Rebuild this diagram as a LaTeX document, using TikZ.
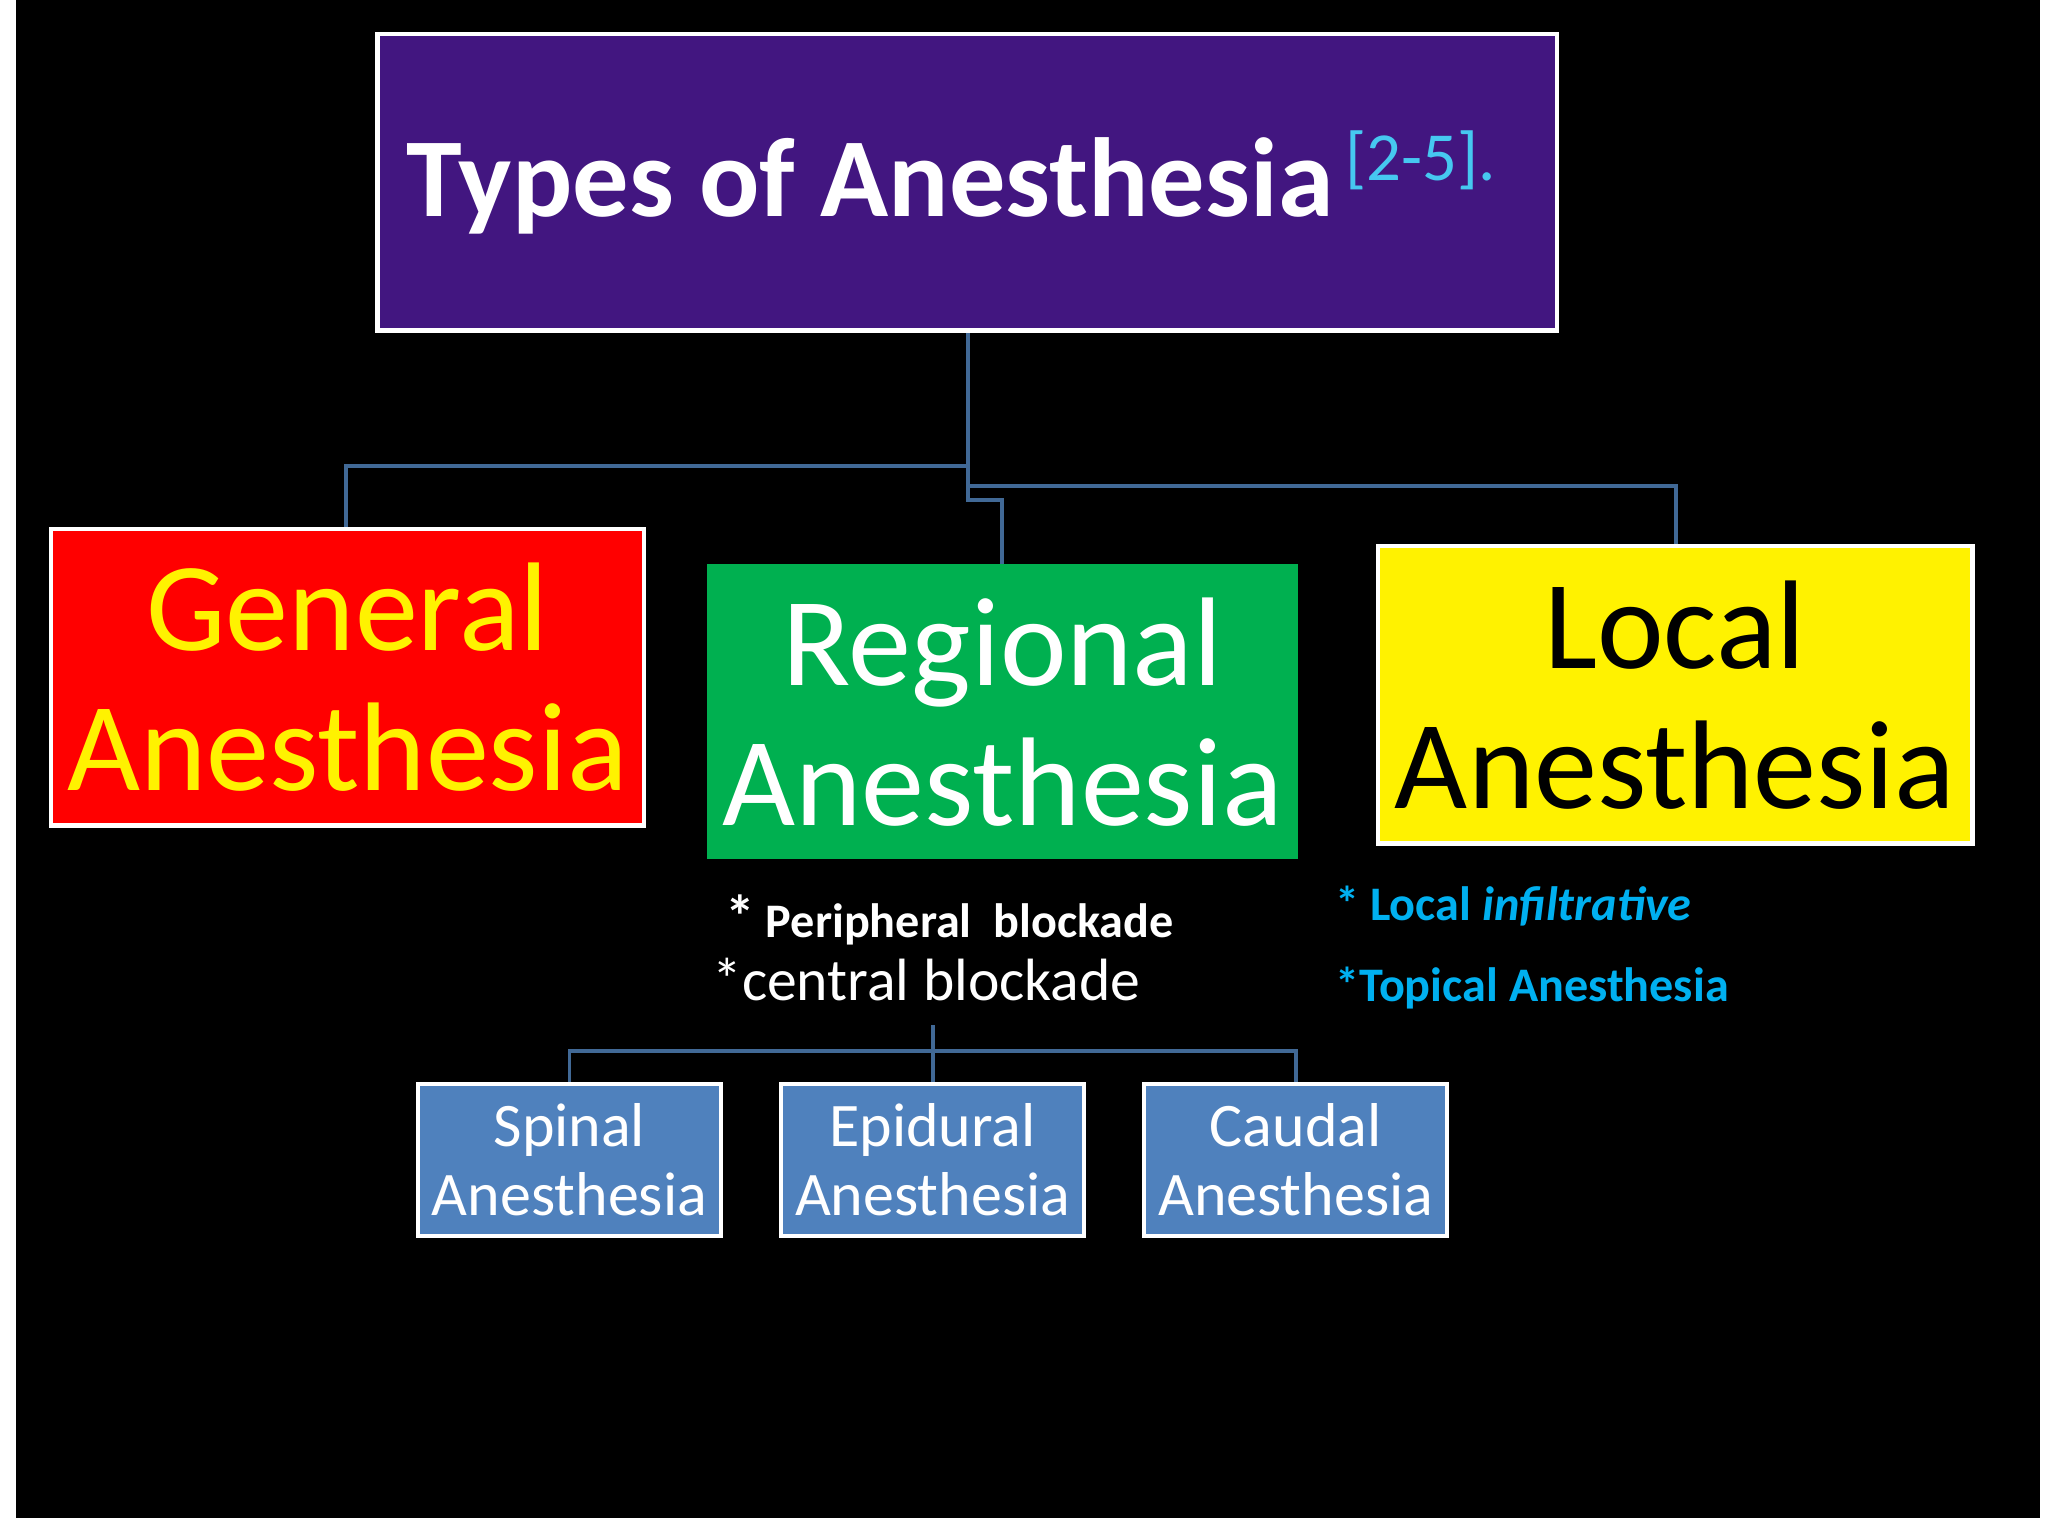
\documentclass[tikz,border=0pt]{standalone}
\usepackage{fontspec}
\setmainfont{Carlito}
\definecolor{ttl}{RGB}{66,22,128}
\definecolor{conn}{RGB}{65,105,150}
\definecolor{gr}{RGB}{0,176,80}
\definecolor{bl}{RGB}{79,129,189}
\definecolor{cy}{RGB}{0,176,240}
\definecolor{supc}{RGB}{70,200,240}
\begin{document}
\begin{tikzpicture}[x=0.02cm,y=-0.02cm,
  bigbox/.style={draw=white,line width=2pt,inner sep=0pt,align=center,font=\fontsize{55}{61}\selectfont},
  smallbox/.style={draw=white,line width=1.7pt,fill=bl,text=white,inner sep=0pt,align=center,font=\fontsize{27}{30}\selectfont},
  conline/.style={draw=conn,line width=1.7pt}]
\useasboundingbox (0,0) rectangle (1568,1176);
\fill[white] (0,0) rectangle (1568,1176);
\fill[black] (12,0) rectangle (1562,1162);
% connectors
\coordinate (t1) at (741,357);
\coordinate (t2) at (741,383);
\draw[conline] (741,253) -- (741,383) -- (767,383) -- (767,432);
\draw[conline] (265,405) -- (265,357) -- (741,357);
\draw[conline] (741,372) -- (1283,372) -- (1283,418);
\draw[conline] (714,785) -- (714,830);
\draw[conline] (436,830) -- (436,805) -- (992,805) -- (992,830);
% title
\node[draw=white,line width=2pt,fill=ttl,minimum width=903*0.02cm,minimum height=227*0.02cm,inner sep=0pt] (title) at (740.5,139.5) {};
\node[anchor=base west,text=white,inner sep=0pt,font=\fontsize{49}{55}\selectfont\bfseries] (tt) at (311,166) {Types of Anesthesia};
\node[anchor=base west,text=supc,inner sep=0pt,font=\fontsize{30}{34}\selectfont] (sup) at (1030,138) {[2-5].};
% main boxes
\node[bigbox,fill=red,text=yellow,minimum width=454*0.02cm,minimum height=227*0.02cm] (gen) at (266,518.5) {General\\Anesthesia};
\node[bigbox,draw=none,fill=gr,text=white,minimum width=453*0.02cm,minimum height=226*0.02cm] (reg) at (767.5,545) {Regional\\Anesthesia};
\node[bigbox,fill=yellow,text=black,minimum width=455*0.02cm,minimum height=228*0.02cm] (loc) at (1282.5,532) {Local\\Anesthesia};
% text under regional
\node[anchor=base west,text=white,inner sep=0pt,font=\fontsize{21}{24}\selectfont\bfseries] (per) at (555,718) {{\fontsize{26}{26}\selectfont *}\ Peripheral\ \ blockade};
\node[anchor=base west,text=white,inner sep=0pt,font=\fontsize{26}{30}\selectfont] (cen) at (545,766) {*central blockade};
% cyan texts
\node[anchor=base west,text=cy,inner sep=0pt,font=\fontsize{21}{24}\selectfont\bfseries] (inf) at (1022,705) {* Local \textit{infiltrative}};
\node[anchor=base west,text=cy,inner sep=0pt,font=\fontsize{21}{24}\selectfont\bfseries] (top) at (1022,767) {*Topical Anesthesia};
% small boxes
\node[smallbox,minimum width=232*0.02cm,minimum height=116*0.02cm] (sp) at (436,888) {Spinal\\Anesthesia};
\node[smallbox,minimum width=232*0.02cm,minimum height=116*0.02cm] (ep) at (714,888) {Epidural\\Anesthesia};
\node[smallbox,minimum width=232*0.02cm,minimum height=116*0.02cm] (ca) at (992,888) {Caudal\\Anesthesia};
\end{tikzpicture}
\end{document}
